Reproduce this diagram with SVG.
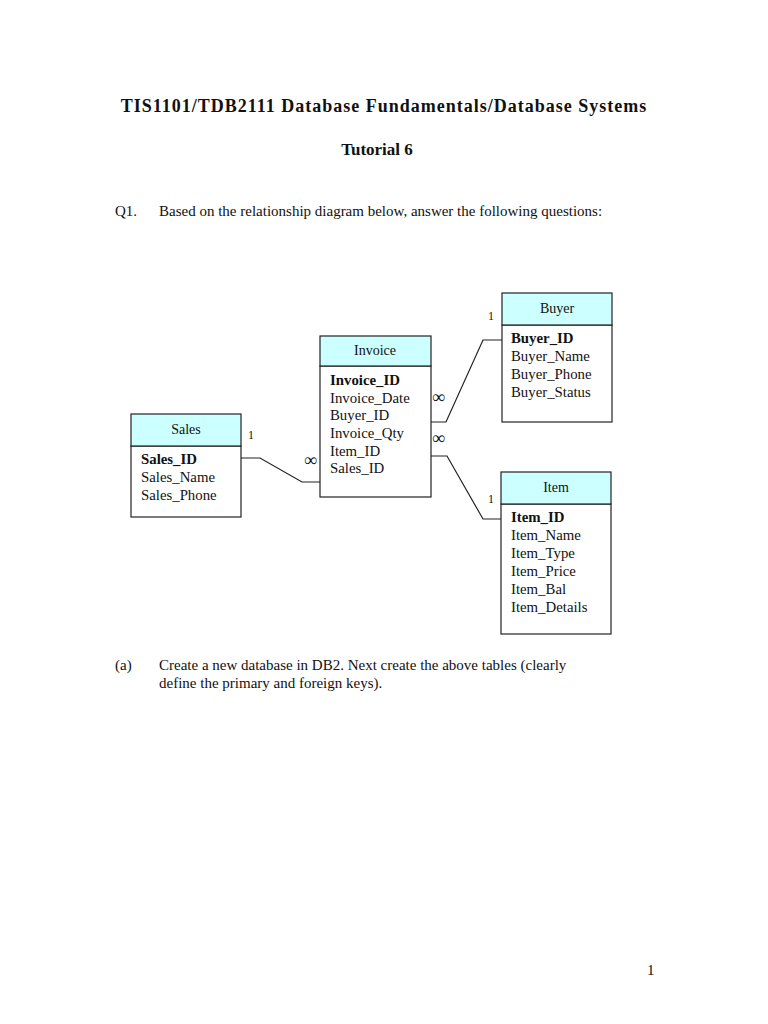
<svg xmlns="http://www.w3.org/2000/svg" width="768" height="1024" viewBox="0 0 768 1024">
<style>
text{font-family:"Liberation Serif","Times New Roman",serif;fill:#111}
.t{font-size:18px;font-weight:bold;letter-spacing:1px}
.t2{font-size:17px;font-weight:bold}
.b{font-size:15px}
.f{font-size:14.8px}
.k{font-weight:bold}
.h{font-size:14px;text-anchor:middle}
.hd{fill:#ccffff;stroke:#222;stroke-width:1.2}
.bd{fill:#fff;stroke:#222;stroke-width:1.2}
.c{fill:none;stroke:#222;stroke-width:1.2}
.m{font-size:12px}
.inf{font-size:18px}
</style>
<rect width="768" height="1024" fill="#fff"/>
<text class="t" x="384" y="112" text-anchor="middle">TIS1101/TDB2111 Database Fundamentals/Database Systems</text>
<text class="t2" x="377" y="155" text-anchor="middle">Tutorial 6</text>
<text class="b" x="115" y="216">Q1.</text>
<text class="b" x="159" y="216">Based on the relationship diagram below, answer the following questions:</text>

<g id="connectors">
<polyline class="c" points="241,458 260,458 302,482 320,482"/>
<polyline class="c" points="431,422 446,422 483,340 502,340"/>
<polyline class="c" points="431,456 447,456 483,519 501,519"/>
<text class="m" x="248" y="439">1</text>
<text class="inf" x="304" y="466">∞</text>
<text class="inf" x="432" y="403">∞</text>
<text class="inf" x="432" y="444">∞</text>
<text class="m" x="488" y="320">1</text>
<text class="m" x="488" y="503">1</text>
</g>

<g id="sales">
<rect class="bd" x="131" y="446" width="110" height="71"/>
<rect class="hd" x="131" y="414" width="110" height="32"/>
<text class="h" x="186" y="434">Sales</text>
<text class="f k" x="141" y="464">Sales_ID</text>
<text class="f" x="141" y="482">Sales_Name</text>
<text class="f" x="141" y="500">Sales_Phone</text>
</g>

<g id="invoice">
<rect class="bd" x="320" y="366" width="111" height="131"/>
<rect class="hd" x="320" y="336" width="111" height="30"/>
<text class="h" x="375" y="355">Invoice</text>
<text class="f k" x="330" y="385">Invoice_ID</text>
<text class="f" x="330" y="403">Invoice_Date</text>
<text class="f" x="330" y="420">Buyer_ID</text>
<text class="f" x="330" y="438">Invoice_Qty</text>
<text class="f" x="330" y="456">Item_ID</text>
<text class="f" x="330" y="473">Sales_ID</text>
</g>

<g id="buyer">
<rect class="bd" x="502" y="325" width="110" height="97"/>
<rect class="hd" x="502" y="293" width="110" height="32"/>
<text class="h" x="557" y="313">Buyer</text>
<text class="f k" x="511" y="343">Buyer_ID</text>
<text class="f" x="511" y="361">Buyer_Name</text>
<text class="f" x="511" y="379">Buyer_Phone</text>
<text class="f" x="511" y="397">Buyer_Status</text>
</g>

<g id="item">
<rect class="bd" x="501" y="504" width="110" height="130"/>
<rect class="hd" x="501" y="472" width="110" height="32"/>
<text class="h" x="556" y="492">Item</text>
<text class="f k" x="511" y="522">Item_ID</text>
<text class="f" x="511" y="540">Item_Name</text>
<text class="f" x="511" y="558">Item_Type</text>
<text class="f" x="511" y="576">Item_Price</text>
<text class="f" x="511" y="594">Item_Bal</text>
<text class="f" x="511" y="612">Item_Details</text>
</g>

<text class="b" x="115" y="670">(a)</text>
<text class="b" x="159" y="670">Create a new database in DB2. Next create the above tables (clearly</text>
<text class="b" x="159" y="688">define the primary and foreign keys).</text>
<text class="b" x="647" y="975">1</text>
</svg>
